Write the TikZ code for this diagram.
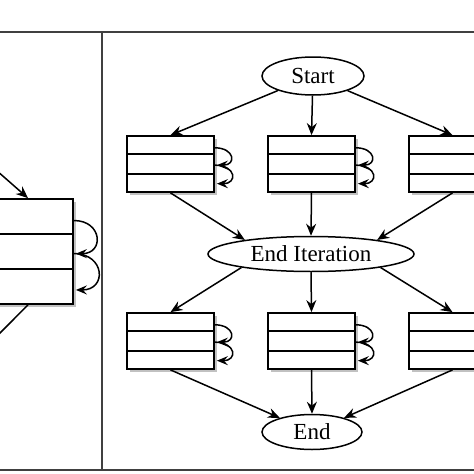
\documentclass[tikz,border=0pt]{standalone}
\usepackage{fontspec}
\setmainfont{Liberation Serif}
\usetikzlibrary{arrows.meta,shapes.geometric,shadows,calc}
\tikzset{
  frameline/.style={draw=black!75, line width=2pt},
  blk/.style={draw, line width=1.8pt, fill=white, rectangle, inner sep=0pt,
     drop shadow={shadow xshift=2.5pt, shadow yshift=-2.5pt, opacity=0.4, fill=black!60}},
  oval/.style={draw, ellipse, line width=1.5pt, inner sep=0pt, font=\fontsize{23}{27}\selectfont},
  arr/.style={line width=1.5pt, -{Stealth[length=12pt,width=10pt,inset=4pt]}},
  loopar/.style={line width=1.5pt, -{Stealth[length=11pt,width=9pt,inset=4pt]}, out=0, in=0, looseness=2.2},
  smallloop/.style={loopar, looseness=2.9},
}
\newcommand{\rowlines}[1]{%
  \draw[line width=1.8pt] ($(#1.north west)!1/3!(#1.south west)$) -- ($(#1.north east)!1/3!(#1.south east)$);
  \draw[line width=1.8pt] ($(#1.north west)!2/3!(#1.south west)$) -- ($(#1.north east)!2/3!(#1.south east)$);
}
\begin{document}
\begin{tikzpicture}[x=1pt,y=-1pt]
\useasboundingbox (0,0) rectangle (474,474);
\clip (0,0) rectangle (474,474);
\fill[white] (0,0) rectangle (474,474);
% frame
\draw[frameline] (0,32) -- (474,32);
\draw[frameline] (0,470) -- (474,470);
\draw[frameline] (102,32) -- (102,470);

% ellipses
\node[oval, minimum width=102pt, minimum height=38pt] (start) at (313,76) {Start};
\node[oval, minimum width=206pt, minimum height=35pt] (iter) at (311,254) {End Iteration};
\node[oval, minimum width=100pt, minimum height=35pt] (end) at (312,432) {End};

% boxes top row
\node[blk, minimum width=87pt, minimum height=56pt] (b1) at (170.5,164) {};
\node[blk, minimum width=87pt, minimum height=56pt] (b2) at (311.5,164) {};
\node[blk, minimum width=87pt, minimum height=56pt] (b3) at (452.5,164) {};
% boxes bottom row
\node[blk, minimum width=87pt, minimum height=56pt] (b4) at (170.5,341) {};
\node[blk, minimum width=87pt, minimum height=56pt] (b5) at (311.5,341) {};
\node[blk, minimum width=87pt, minimum height=56pt] (b6) at (452.5,341) {};
% left panel box
\node[blk, minimum width=90pt, minimum height=105pt] (lb) at (28,251.5) {};

\rowlines{b1}\rowlines{b2}\rowlines{b3}\rowlines{b4}\rowlines{b5}\rowlines{b6}\rowlines{lb}

% self loops
\foreach \b in {b1,b2,b4,b5}{
  \draw[smallloop] ($(\b.north east)!0.22!(\b.south east)$) to ($(\b.north east)!0.52!(\b.south east)+(2,0)$);
  \draw[smallloop] ($(\b.north east)!0.52!(\b.south east)$) to ($(\b.north east)!0.84!(\b.south east)+(2,0)$);
}
\draw[loopar] ($(lb.north east)!0.21!(lb.south east)$) to ($(lb.north east)!0.52!(lb.south east)+(2,0)$);
\draw[loopar] ($(lb.north east)!0.52!(lb.south east)$) to ($(lb.north east)!0.86!(lb.south east)+(2,0)$);

% arrows
\draw[arr] (start) -- (b1.north);
\draw[arr] (start) -- (b2.north);
\draw[arr] (start) -- (b3.north);
\draw[arr] (b1.south) -- (iter.168);
\draw[arr] (b2.south) -- (iter.north);
\draw[arr] (b3.south) -- (iter.12);
\draw[arr] (iter.191) -- (b4.north);
\draw[arr] (iter.south) -- (b5.north);
\draw[arr] (iter.349) -- (b6.north);
\draw[arr] (b4.south) -- (end);
\draw[arr] (b5.south) -- (end.north);
\draw[arr] (b6.south) -- (end);

% left panel connectors
\coordinate (lin) at (-12,163);
\coordinate (lout) at (-12,345);
\draw[arr] (lin) -- (lb.north);
\draw[line width=1.5pt] (lb.south) -- (lout);
\end{tikzpicture}
\end{document}
